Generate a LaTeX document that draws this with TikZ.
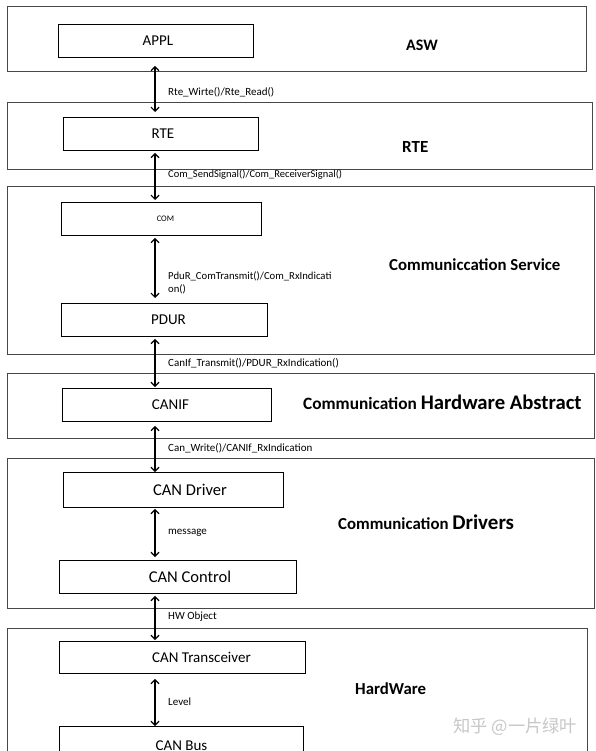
\documentclass[tikz,border=0pt]{standalone}
\usepackage{fontspec}
\setmainfont{Carlito}
\newfontfamily\cjk{Noto Sans CJK SC}
\usetikzlibrary{arrows.meta}
\begin{document}
\begin{tikzpicture}[x=1pt,y=-1pt,
  layer/.style={draw=black!72, line width=1.3pt, anchor=north west, inner sep=0pt},
  mod/.style={draw=black, line width=0.9pt, anchor=north west, inner sep=0pt},
  arr/.style={line width=1.2pt, {Straight Barb[length=4pt,width=8pt]}-{Straight Barb[length=4pt,width=8pt]}},
  lab/.style={anchor=west, inner sep=0pt, font=\fontsize{11}{13}\selectfont},
  ttl/.style={anchor=west, inner sep=0pt, font=\bfseries}]
\useasboundingbox (0,0) rectangle (595,751);
\clip (0,0) rectangle (595,751);
\fill[white] (0,0) rectangle (595,751);
% layers
\node[layer, minimum width=579pt, minimum height=65pt] (asw) at (7,6) {};
\node[layer, minimum width=585pt, minimum height=67pt] (rtel) at (7,102) {};
\node[layer, minimum width=587pt, minimum height=168pt] (csl) at (7,186) {};
\node[layer, minimum width=587pt, minimum height=65pt] (chal) at (7,373) {};
\node[layer, minimum width=587pt, minimum height=150pt] (drvl) at (7,458) {};
\node[layer, minimum width=580pt, minimum height=140pt] (hwl) at (7,628) {};
% modules
\node[mod, minimum width=195pt, minimum height=33pt, font=\fontsize{15}{18}\selectfont] (appl) at (58,24) {\hspace*{4pt}APPL};
\node[mod, minimum width=195pt, minimum height=33pt, font=\fontsize{15}{18}\selectfont] (rte) at (63,117) {\hspace*{4pt}RTE};
\node[mod, minimum width=200pt, minimum height=33pt, font=\fontsize{8.5}{10}\selectfont] (com) at (61,202) {\hspace*{8pt}COM};
\node[mod, minimum width=206pt, minimum height=33pt, font=\fontsize{15}{18}\selectfont] (pdur) at (61,303) {\hspace*{8pt}PDUR};
\node[mod, minimum width=209pt, minimum height=33pt, font=\fontsize{15}{18}\selectfont] (canif) at (62,388) {\hspace*{7pt}CANIF};
\node[mod, minimum width=220pt, minimum height=35pt, font=\fontsize{16.5}{20}\selectfont] (drv) at (63,472) {\hspace*{33pt}CAN Driver};
\node[mod, minimum width=237pt, minimum height=33pt, font=\fontsize{16.5}{20}\selectfont] (ctl) at (59,560) {\hspace*{24pt}CAN Control};
\node[mod, minimum width=246pt, minimum height=32pt, font=\fontsize{15}{18}\selectfont] (trx) at (59,641) {\hspace*{38pt}CAN Transceiver};
\node[mod, minimum width=244pt, minimum height=38pt, font=\fontsize{15}{18}\selectfont] (bus) at (59,726) {CAN Bus};
% arrows
\coordinate (ax) at (155,0);
\draw[arr, shorten <=8pt, shorten >=5pt] (appl.south -| ax) -- (rte.north -| ax);
\draw[arr, shorten <=2pt, shorten >=2pt] (rte.south -| ax) -- (com.north -| ax);
\draw[arr, shorten <=2pt, shorten >=5pt] (com.south -| ax) -- (pdur.north -| ax);
\draw[arr, shorten <=2pt, shorten >=1pt] (pdur.south -| ax) -- (canif.north -| ax);
\draw[arr, shorten <=4pt, shorten >=0pt] (canif.south -| ax) -- (drv.north -| ax);
\draw[arr, shorten <=1pt, shorten >=3pt] (drv.south -| ax) -- (ctl.north -| ax);
\draw[arr, shorten <=2pt, shorten >=1pt] (ctl.south -| ax) -- (trx.north -| ax);
\draw[arr, shorten <=5pt, shorten >=0pt] (trx.south -| ax) -- (bus.north -| ax);
% arrow labels
\node[lab] (l1) at (168,92) {Rte\_Wirte()/Rte\_Read()};
\node[lab, font=\fontsize{10.5}{12}\selectfont] (l2) at (168,175) {Com\_SendSignal()/Com\_ReceiverSignal()};
\node[lab, align=left, anchor=north west, font=\fontsize{10.7}{13}\selectfont] (l3) at (168,271) {PduR\_ComTransmit()/Com\_RxIndicati\\on()};
\node[lab] (l4) at (168,363) {CanIf\_Transmit()/PDUR\_RxIndication()};
\node[lab] (l5) at (168,448) {Can\_Write()/CANIf\_RxIndication};
\node[lab] (l6) at (168,533) {message};
\node[lab] (l7) at (168,617) {HW Object};
\node[lab] (l8) at (168,702) {Level};
% layer titles
\node[ttl, font=\bfseries\fontsize{16}{19}\selectfont] (t1) at (406,45) {ASW};
\node[ttl, font=\bfseries\fontsize{17}{19}\selectfont] (t2) at (402,147) {RTE};
\node[ttl, font=\bfseries\fontsize{16.8}{19}\selectfont] (t3) at (389,265) {Communiccation Service};
\node[ttl] (t4) at (303,402) {\fontsize{17.3}{19}\selectfont Communication \fontsize{20.7}{22}\selectfont Hardware Abstract};
\node[ttl] (t5) at (338,522) {\fontsize{16.8}{19}\selectfont Communication \fontsize{21}{22}\selectfont Drivers};
\node[ttl, font=\bfseries\fontsize{16.8}{19}\selectfont] (t6) at (355,689) {HardWare};
% watermark
\node[anchor=west, inner sep=0pt, text=black!22, font=\cjk\fontsize{17.3}{20}\selectfont] (wm) at (453,727) {知乎 @一片绿叶};
\end{tikzpicture}
\end{document}
